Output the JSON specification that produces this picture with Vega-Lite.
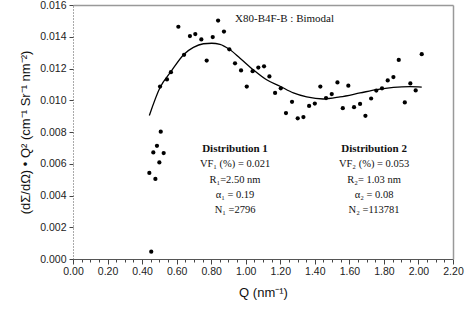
{
  "$schema": "https://vega.github.io/schema/vega-lite/v6.json",
  "width": 380,
  "height": 254,
  "autosize": {"type": "none"},
  "padding": {"left": 73, "top": 5, "right": 21, "bottom": 62},
  "background": "white",
  "config": {
    "view": {"stroke": null},
    "axis": {"labelFont": "Liberation Sans", "titleFont": "Liberation Sans", "grid": false, "labelColor": "#222", "titleColor": "#111", "titleFontWeight": "normal"}
  },
  "datasets": {
    "pts": [
      {"q": 0.442, "i": 0.00542}, {"q": 0.453, "i": 0.00046}, {"q": 0.465, "i": 0.00671}, {"q": 0.477, "i": 0.00504},
      {"q": 0.486, "i": 0.00713}, {"q": 0.500, "i": 0.00608}, {"q": 0.508, "i": 0.00802}, {"q": 0.525, "i": 0.00667},
      {"q": 0.504, "i": 0.01086}, {"q": 0.544, "i": 0.01131}, {"q": 0.567, "i": 0.01177}, {"q": 0.610, "i": 0.01463},
      {"q": 0.643, "i": 0.01286}, {"q": 0.677, "i": 0.01404}, {"q": 0.708, "i": 0.01417}, {"q": 0.743, "i": 0.01383},
      {"q": 0.774, "i": 0.01250}, {"q": 0.809, "i": 0.01398}, {"q": 0.840, "i": 0.01502}, {"q": 0.874, "i": 0.01433},
      {"q": 0.905, "i": 0.01321}, {"q": 0.938, "i": 0.01233}, {"q": 0.973, "i": 0.01188}, {"q": 1.006, "i": 0.01086},
      {"q": 1.040, "i": 0.01183}, {"q": 1.073, "i": 0.01206}, {"q": 1.106, "i": 0.01214}, {"q": 1.137, "i": 0.01150},
      {"q": 1.170, "i": 0.01046}, {"q": 1.203, "i": 0.01075}, {"q": 1.233, "i": 0.00919}, {"q": 1.268, "i": 0.00990},
      {"q": 1.301, "i": 0.00886}, {"q": 1.334, "i": 0.00894}, {"q": 1.367, "i": 0.00964}, {"q": 1.400, "i": 0.00979},
      {"q": 1.432, "i": 0.01086}, {"q": 1.465, "i": 0.01014}, {"q": 1.498, "i": 0.01039}, {"q": 1.531, "i": 0.01112},
      {"q": 1.562, "i": 0.00950}, {"q": 1.594, "i": 0.01092}, {"q": 1.627, "i": 0.00956}, {"q": 1.662, "i": 0.00977},
      {"q": 1.693, "i": 0.00902}, {"q": 1.726, "i": 0.01011}, {"q": 1.756, "i": 0.01061}, {"q": 1.789, "i": 0.01075},
      {"q": 1.822, "i": 0.01125}, {"q": 1.855, "i": 0.01146}, {"q": 1.886, "i": 0.01254}, {"q": 1.921, "i": 0.00986},
      {"q": 1.953, "i": 0.01106}, {"q": 1.984, "i": 0.01062}, {"q": 2.019, "i": 0.01290}
    ],
    "fit": [
      {"q": 0.442, "i": 0.00904}, {"q": 0.504, "i": 0.01080}, {"q": 0.567, "i": 0.01180}, {"q": 0.643, "i": 0.01290},
      {"q": 0.697, "i": 0.01333}, {"q": 0.755, "i": 0.01356}, {"q": 0.803, "i": 0.01359}, {"q": 0.851, "i": 0.01352},
      {"q": 0.905, "i": 0.01321}, {"q": 0.967, "i": 0.01265}, {"q": 1.044, "i": 0.01192}, {"q": 1.121, "i": 0.01129},
      {"q": 1.199, "i": 0.01088}, {"q": 1.276, "i": 0.01046}, {"q": 1.353, "i": 0.01021}, {"q": 1.449, "i": 0.01008},
      {"q": 1.546, "i": 0.01021}, {"q": 1.662, "i": 0.01046}, {"q": 1.758, "i": 0.01067}, {"q": 1.855, "i": 0.01081},
      {"q": 1.951, "i": 0.01086}, {"q": 2.019, "i": 0.01083}
    ],
    "heads": [
      {"q": 0.938, "i": 0.00694, "t": "Distribution 1"},
      {"q": 1.743, "i": 0.00694, "t": "Distribution 2"}
    ],
    "notes": [
      {"q": 0.938, "i": 0.00600, "t": "VF₁ (%) = 0.021"},
      {"q": 0.938, "i": 0.00500, "t": "R₁=2.50 nm"},
      {"q": 0.938, "i": 0.00406, "t": "α₁ = 0.19"},
      {"q": 0.938, "i": 0.00306, "t": "N₁ =2796"},
      {"q": 1.743, "i": 0.00600, "t": "VF₂ (%) = 0.053"},
      {"q": 1.743, "i": 0.00500, "t": "R₂= 1.03 nm"},
      {"q": 1.743, "i": 0.00406, "t": "α₂ = 0.08"},
      {"q": 1.743, "i": 0.00306, "t": "N₂ =113781"}
    ],
    "label": [
      {"q": 0.938, "i": 0.01513, "t": "X80-B4F-B : Bimodal"}
    ]
  },
  "layer": [
    {
      "data": {"name": "pts"},
      "mark": {"type": "circle", "size": 18, "color": "black", "opacity": 1},
      "encoding": {
        "x": {
          "field": "q", "type": "quantitative",
          "scale": {"domain": [0, 2.2], "nice": false, "zero": false},
          "axis": {
            "orient": "bottom",
            "title": "Q (nm⁻¹)",
            "titleFontSize": 13,
            "titleBaseline": "middle",
            "titleY": 33,
            "values": [0,0.05,0.1,0.15,0.2,0.25,0.3,0.35,0.4,0.45,0.5,0.55,0.6,0.65,0.7,0.75,0.8,0.85,0.9,0.95,1,1.05,1.1,1.15,1.2,1.25,1.3,1.35,1.4,1.45,1.5,1.55,1.6,1.65,1.7,1.75,1.8,1.85,1.9,1.95,2,2.05,2.1,2.15,2.2],
            "labelExpr": "abs(datum.value*5 - round(datum.value*5)) < 0.001 ? format(datum.value, '.2f') : ''",
            "labelOverlap": false,
            "labelFlush": false,
            "labelBound": false,
            "labelFontSize": 10.5,
            "labelPadding": 2,
            "tickSize": {"condition": {"test": "abs(datum.value*5 - round(datum.value*5)) < 0.001", "value": 5}, "value": 3},
            "tickColor": "#444",
            "domainColor": "#555",
            "domainWidth": 1
          }
        },
        "y": {
          "field": "i", "type": "quantitative",
          "scale": {"domain": [0, 0.016], "nice": false, "zero": false},
          "axis": {
            "orient": "left",
            "title": "(dΣ/dΩ) • Q² (cm⁻¹ Sr⁻¹ nm⁻²)",
            "titleFontSize": 13,
            "titleAngle": -90,
            "titleBaseline": "middle",
            "titleX": -48,
            "titleY": 127,
            "values": [0, 0.002, 0.004, 0.006, 0.008, 0.01, 0.012, 0.014, 0.016],
            "format": ".3f",
            "labelFontSize": 10.5,
            "labelPadding": 3,
            "labelBound": false,
            "labelFlush": false,
            "tickSize": 4,
            "tickColor": "#444",
            "domainColor": "#555",
            "domainDash": [1, 2],
            "domainWidth": 1
          }
        }
      }
    },
    {
      "data": {"name": "fit"},
      "mark": {"type": "line", "color": "black", "strokeWidth": 1.3, "interpolate": "monotone"},
      "encoding": {
        "x": {
          "field": "q", "type": "quantitative",
          "scale": {"domain": [0, 2.2], "nice": false, "zero": false},
          "axis": {"orient": "top", "title": null, "labels": false, "ticks": false, "domainColor": "#999", "domainWidth": 1.5}
        },
        "y": {
          "field": "i", "type": "quantitative",
          "scale": {"domain": [0, 0.016], "nice": false, "zero": false},
          "axis": {"orient": "right", "title": null, "labels": false, "ticks": false, "domainColor": "#999", "domainWidth": 1.5}
        }
      }
    },
    {
      "data": {"name": "heads"},
      "mark": {"type": "text", "font": "Liberation Serif", "fontSize": 11, "fontWeight": "bold", "align": "center", "baseline": "middle", "color": "#111"},
      "encoding": {
        "x": {"field": "q", "type": "quantitative", "scale": {"domain": [0, 2.2], "nice": false, "zero": false}, "axis": null},
        "y": {"field": "i", "type": "quantitative", "scale": {"domain": [0, 0.016], "nice": false, "zero": false}, "axis": null},
        "text": {"field": "t"}
      }
    },
    {
      "data": {"name": "notes"},
      "mark": {"type": "text", "font": "Liberation Serif", "fontSize": 10.5, "align": "center", "baseline": "middle", "color": "#111"},
      "encoding": {
        "x": {"field": "q", "type": "quantitative", "scale": {"domain": [0, 2.2], "nice": false, "zero": false}, "axis": null},
        "y": {"field": "i", "type": "quantitative", "scale": {"domain": [0, 0.016], "nice": false, "zero": false}, "axis": null},
        "text": {"field": "t"}
      }
    },
    {
      "data": {"name": "label"},
      "mark": {"type": "text", "font": "Liberation Serif", "fontSize": 11, "align": "left", "baseline": "middle", "color": "#111"},
      "encoding": {
        "x": {"field": "q", "type": "quantitative", "scale": {"domain": [0, 2.2], "nice": false, "zero": false}, "axis": null},
        "y": {"field": "i", "type": "quantitative", "scale": {"domain": [0, 0.016], "nice": false, "zero": false}, "axis": null},
        "text": {"field": "t"}
      }
    }
  ],
  "resolve": {"axis": {"x": "independent", "y": "independent"}}
}
